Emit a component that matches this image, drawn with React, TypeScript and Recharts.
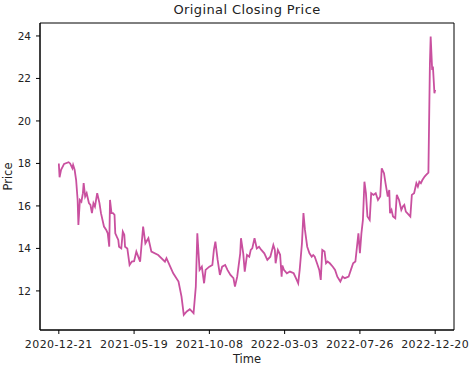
import { LineChart, Line, XAxis, YAxis, ReferenceArea } from "recharts";

// trading-day index on x, closing price on y
const tickDays = [0, 100, 200, 300, 400, 500];
const tickDates = ["2020-12-21", "2021-05-19", "2021-10-08", "2022-03-03", "2022-07-26", "2022-12-20"];
const priceTicks = [12, 14, 16, 18, 20, 22, 24];

const dayIndex = [
  0, 1, 3, 7, 13, 15, 18, 19, 21, 23, 25, 26, 28, 30, 32, 33, 35, 37, 40, 42, 44, 46, 48, 51, 54, 56, 60, 63, 65, 67,
  68, 70, 72, 74, 75, 77, 79, 80, 83, 85, 87, 88, 91, 94, 97, 100, 103, 108, 112, 115, 119, 123, 132, 141, 143, 148,
  152, 159, 163, 166, 170, 174, 179, 182, 184, 187, 190, 193, 195, 200, 204, 206, 208, 211, 214, 217, 221, 224, 228,
  232, 234, 237, 241, 242, 245, 247, 250, 253, 255, 257, 260, 263, 266, 269, 273, 277, 281, 285, 287, 288, 291, 294,
  296, 297, 299, 303, 307, 312, 315, 318, 320, 323, 325, 327, 330, 333, 336, 338, 340, 343, 346, 348, 350, 353, 355,
  357, 360, 364, 367, 370, 374, 377, 380, 385, 388, 391, 394, 398, 400, 402, 404, 406, 408, 410, 413, 415, 418, 421,
  424, 427, 429, 432, 434, 437, 439, 440, 442, 444, 447, 449, 452, 455, 457, 459, 461, 465, 467, 469, 472, 475, 477,
  479, 481, 483, 486, 488, 491, 493, 494, 496, 497, 499, 500,
];
const closePrice = [
  18.0, 17.35, 17.7, 17.98, 18.06, 18.0, 17.77, 17.93, 17.7, 17.22, 16.28, 15.1, 16.28, 16.2, 16.6, 17.07, 16.44, 16.6,
  16.13, 16.05, 15.66, 16.13, 15.97, 16.6, 16.13, 15.66, 15.03, 14.87, 14.71, 14.08, 16.28, 15.66, 15.66, 15.58, 14.71,
  14.55, 14.4, 14.08, 14.0, 14.79, 14.64, 14.08, 14.0, 13.22, 13.38, 13.4, 13.85, 13.38, 15.03, 14.24, 14.48, 13.85,
  13.69, 13.38, 13.54, 13.14, 12.83, 12.44, 11.73, 10.87, 11.03, 11.14, 10.95, 12.2, 14.71, 12.99, 13.14, 12.36, 12.99,
  13.14, 13.22, 13.93, 14.32, 13.46, 12.75, 13.14, 13.22, 12.99, 12.75, 12.6, 12.2, 12.67, 13.77, 14.48, 13.77, 12.91,
  13.69, 13.61, 13.93, 14.0, 14.48, 14.0, 14.08, 13.93, 13.77, 13.46, 13.61, 14.16, 13.93, 13.3, 13.93, 13.7, 12.67,
  13.2, 12.99, 12.83, 12.91, 12.83, 12.6, 12.36, 12.99, 14.24, 15.66, 14.87, 14.08, 13.77, 13.61, 13.69, 13.61, 13.3,
  12.99, 12.52, 13.93, 13.85, 13.3, 13.38, 13.3, 13.14, 12.99, 12.67, 12.44, 12.67, 12.6, 12.67, 12.99, 13.3, 13.38,
  14.71, 13.77, 14.71, 15.34, 17.14, 16.6, 15.5, 15.34, 16.6, 16.52, 16.6, 16.28, 16.44, 17.77, 17.54, 17.07, 16.44,
  16.75, 15.66, 15.81, 15.5, 15.42, 16.52, 16.28, 15.81, 15.97, 16.05, 15.73, 15.58, 15.5, 16.52, 16.6, 17.07, 16.91,
  17.14, 17.07, 17.22, 17.38, 17.46, 17.57, 22.71, 23.97, 22.4, 22.56, 21.3, 21.46,
];

const data = dayIndex.map((day, i) => ({ day, price: closePrice[i] }));

const xDomain: [number, number] = [-25, 525];
const yDomain: [number, number] = [10.16, 24.61];

const font = "'DejaVu Sans', sans-serif";
const tickStyle = { fontSize: 10.5, fill: "#222", fontFamily: font };

export default function App() {
  return (
    <div style={{ position: "absolute", left: 0, top: 0, width: 474, height: 367, background: "#fff", fontFamily: font }}>
      <div
        style={{
          position: "absolute",
          left: 40,
          width: 414,
          top: 2,
          textAlign: "center",
          fontSize: 13,
          letterSpacing: 0.4,
          color: "#222",
        }}
      >
        Original Closing Price
      </div>
      <LineChart width={474} height={367} data={data} margin={{ top: 23, right: 20, bottom: 0, left: 0 }}>
        <XAxis
          dataKey="day"
          type="number"
          domain={xDomain}
          ticks={tickDays}
          tickFormatter={(v: number) => tickDates[tickDays.indexOf(v)] ?? ""}
          height={37}
          tickSize={4}
          tickMargin={6}
          stroke="#000"
          tick={{ ...tickStyle, fontSize: 11, letterSpacing: 0.4 }}
          interval={0}
          label={{ value: "Time", position: "insideBottom", offset: 4, style: { fontSize: 11.5, fill: "#222", fontFamily: font } }}
        />
        <YAxis
          type="number"
          domain={yDomain}
          ticks={priceTicks}
          allowDataOverflow
          width={40}
          tickSize={4}
          tickMargin={5}
          stroke="#000"
          tick={tickStyle}
          label={{ value: "Price", angle: -90, position: "insideLeft", offset: 8, style: { textAnchor: "middle", fontSize: 11.5, fill: "#222", fontFamily: font } }}
        />
        {/* matplotlib-style frame around the plot */}
        <ReferenceArea
          x1={xDomain[0]}
          x2={xDomain[1]}
          y1={yDomain[0]}
          y2={yDomain[1]}
          fill="none"
          fillOpacity={0}
          stroke="#000"
          strokeWidth={1}
          strokeOpacity={1}
        />
        <Line
          type="linear"
          dataKey="price"
          stroke="#c9509f"
          strokeWidth={1.8}
          dot={false}
          isAnimationActive={false}
        />
      </LineChart>
    </div>
  );
}
